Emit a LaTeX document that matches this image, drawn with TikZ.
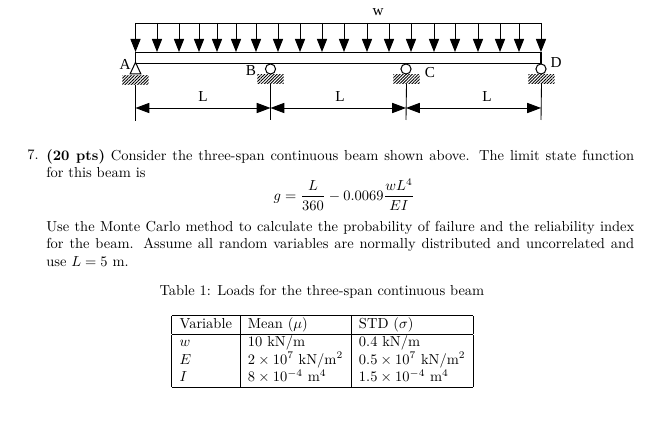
\documentclass[tikz,border=0pt]{standalone}
\usepackage{amssymb,amsfonts,amsmath}
\usepackage{fontspec}
\newfontfamily\beamfont{Liberation Serif}
\usetikzlibrary{arrows.meta}
\usetikzlibrary{patterns.meta}
\usetikzlibrary{shapes.geometric}
\tikzset{
	loadarrow/.style={line width=.65pt,-{Triangle[length=9pt,width=7pt]}},
	dimarrow/.style={line width=.6pt,{Triangle[length=9.5pt,width=7pt]}-{Triangle[length=9.5pt,width=7pt]}},
	ground/.style={minimum width=18pt,minimum height=6pt,inner sep=0pt,pattern={Lines[angle=45,distance=1.5pt,line width=.6pt]}},
	roller/.style={circle,draw,line width=.7pt,fill=white,minimum size=7pt,inner sep=0pt},
	beamlabel/.style={font=\beamfont\fontsize{10.5}{12}\selectfont,inner sep=0pt},
	para/.style={text width=405.7pt,align=justify,inner sep=0pt,anchor=north west}
}
\begin{document}
\begin{tikzpicture}[x=.69pt,y=-.69pt]
	\useasboundingbox (0,0) rectangle (669,422);
	% distributed load
	\coordinate (topA) at (135.5,23);
	\coordinate (topD) at (541,23);
	\draw[line width=.65pt] (topA) -- (topD);
	\foreach \x [count=\i] in {135.5,157,179,199,217,236,256,278,300,322,344,367,389,411,434,455,478,500,519,541}
	{
		\coordinate (lt\i) at (\x,23);
		\coordinate (lb\i) at (\x,52);
		\draw[loadarrow] (lt\i) -- (lb\i);
	}
	\node[beamlabel] (w) at (378,12) {w};
	% beam
	\node[draw,line width=.7pt,minimum width=279.8pt,minimum height=8.2pt,inner sep=0pt] (beam) at (338.25,58) {};
	% supports
	\node[isosceles triangle,isosceles triangle apex angle=50,shape border rotate=90,draw,line width=.7pt,fill=white,minimum height=8pt,minimum width=5.5pt,inner sep=0pt] (supA) at (135.5,70.5) {};
	\node[roller] (supB) at (270.5,69) {};
	\node[roller] (supC) at (406,69) {};
	\node[roller] (supD) at (541,69) {};
	\node[ground] (gndA) at (135.5,80) {};
	\node[ground] (gndB) at (270.5,79) {};
	\node[ground] (gndC) at (406.5,79) {};
	\node[ground] (gndD) at (541.5,79) {};
	\node[beamlabel] (A) at (125,64) {A};
	\node[beamlabel] (B) at (251,71) {B};
	\node[beamlabel] (C) at (430,73) {C};
	\node[beamlabel] (D) at (556,63) {D};
	% dimensions
	\coordinate (endA) at (135.5,121);
	\coordinate (endB) at (270.5,120);
	\coordinate (endC) at (406,120);
	\coordinate (endD) at (541,120);
	\foreach \from/\to in {gndA/endA, gndB/endB, gndC/endC, gndD/endD}
	\draw[line width=.6pt] (\from.south) -- (\to);
	\coordinate (dimA) at (135.5,108);
	\coordinate (dimB) at (270.5,108);
	\coordinate (dimC) at (406,108);
	\coordinate (dimD) at (541,108);
	\foreach \from/\to in {dimA/dimB, dimB/dimC, dimC/dimD}
	\draw[dimarrow] (\from) -- (\to);
	\node[beamlabel] (L1) at (203,97) {L};
	\node[beamlabel] (L2) at (340,97) {L};
	\node[beamlabel] (L3) at (487,97) {L};
	% problem text
	\node[inner sep=0pt,anchor=north west] (num) at (27,149) {7.};
	\node[para] (intro) at (46,149) {\textbf{(20 pts)} Consider the three-span continuous beam shown above.  The limit state function\linebreak for this beam is};
	\node[inner sep=0pt] (eqn) at (344,194.5) {$\displaystyle g=\frac{L}{360}-0.0069\frac{wL^4}{EI}$};
	\node[para] (method) at (46,221) {Use the Monte Carlo method to calculate the probability of failure and the reliability index for the beam.  Assume all random variables are normally distributed and uncorrelated and use $L=5$ m.};
	\node[inner sep=0pt] (caption) at (322,291.5) {Table 1: Loads for the three-span continuous beam};
	\node[inner sep=0pt] (loads) at (322.5,351.5) {\setlength{\tabcolsep}{5.5pt}\setlength{\arrayrulewidth}{.6pt}\begin{tabular}{|l|l|l|}
		\hline
		Variable & Mean ($\mu$) & STD ($\sigma$)\\
		\hline
		$w$ & 10 kN/m & 0.4 kN/m\\
		$E$ & $2\times10^7$ kN/m$^2$ & $0.5\times10^7$ kN/m$^2$\\
		$I$ & $8\times10^{-4}$ m$^4$ & $1.5\times10^{-4}$ m$^4$\\
		\hline
	\end{tabular}};
\end{tikzpicture}
\end{document}
